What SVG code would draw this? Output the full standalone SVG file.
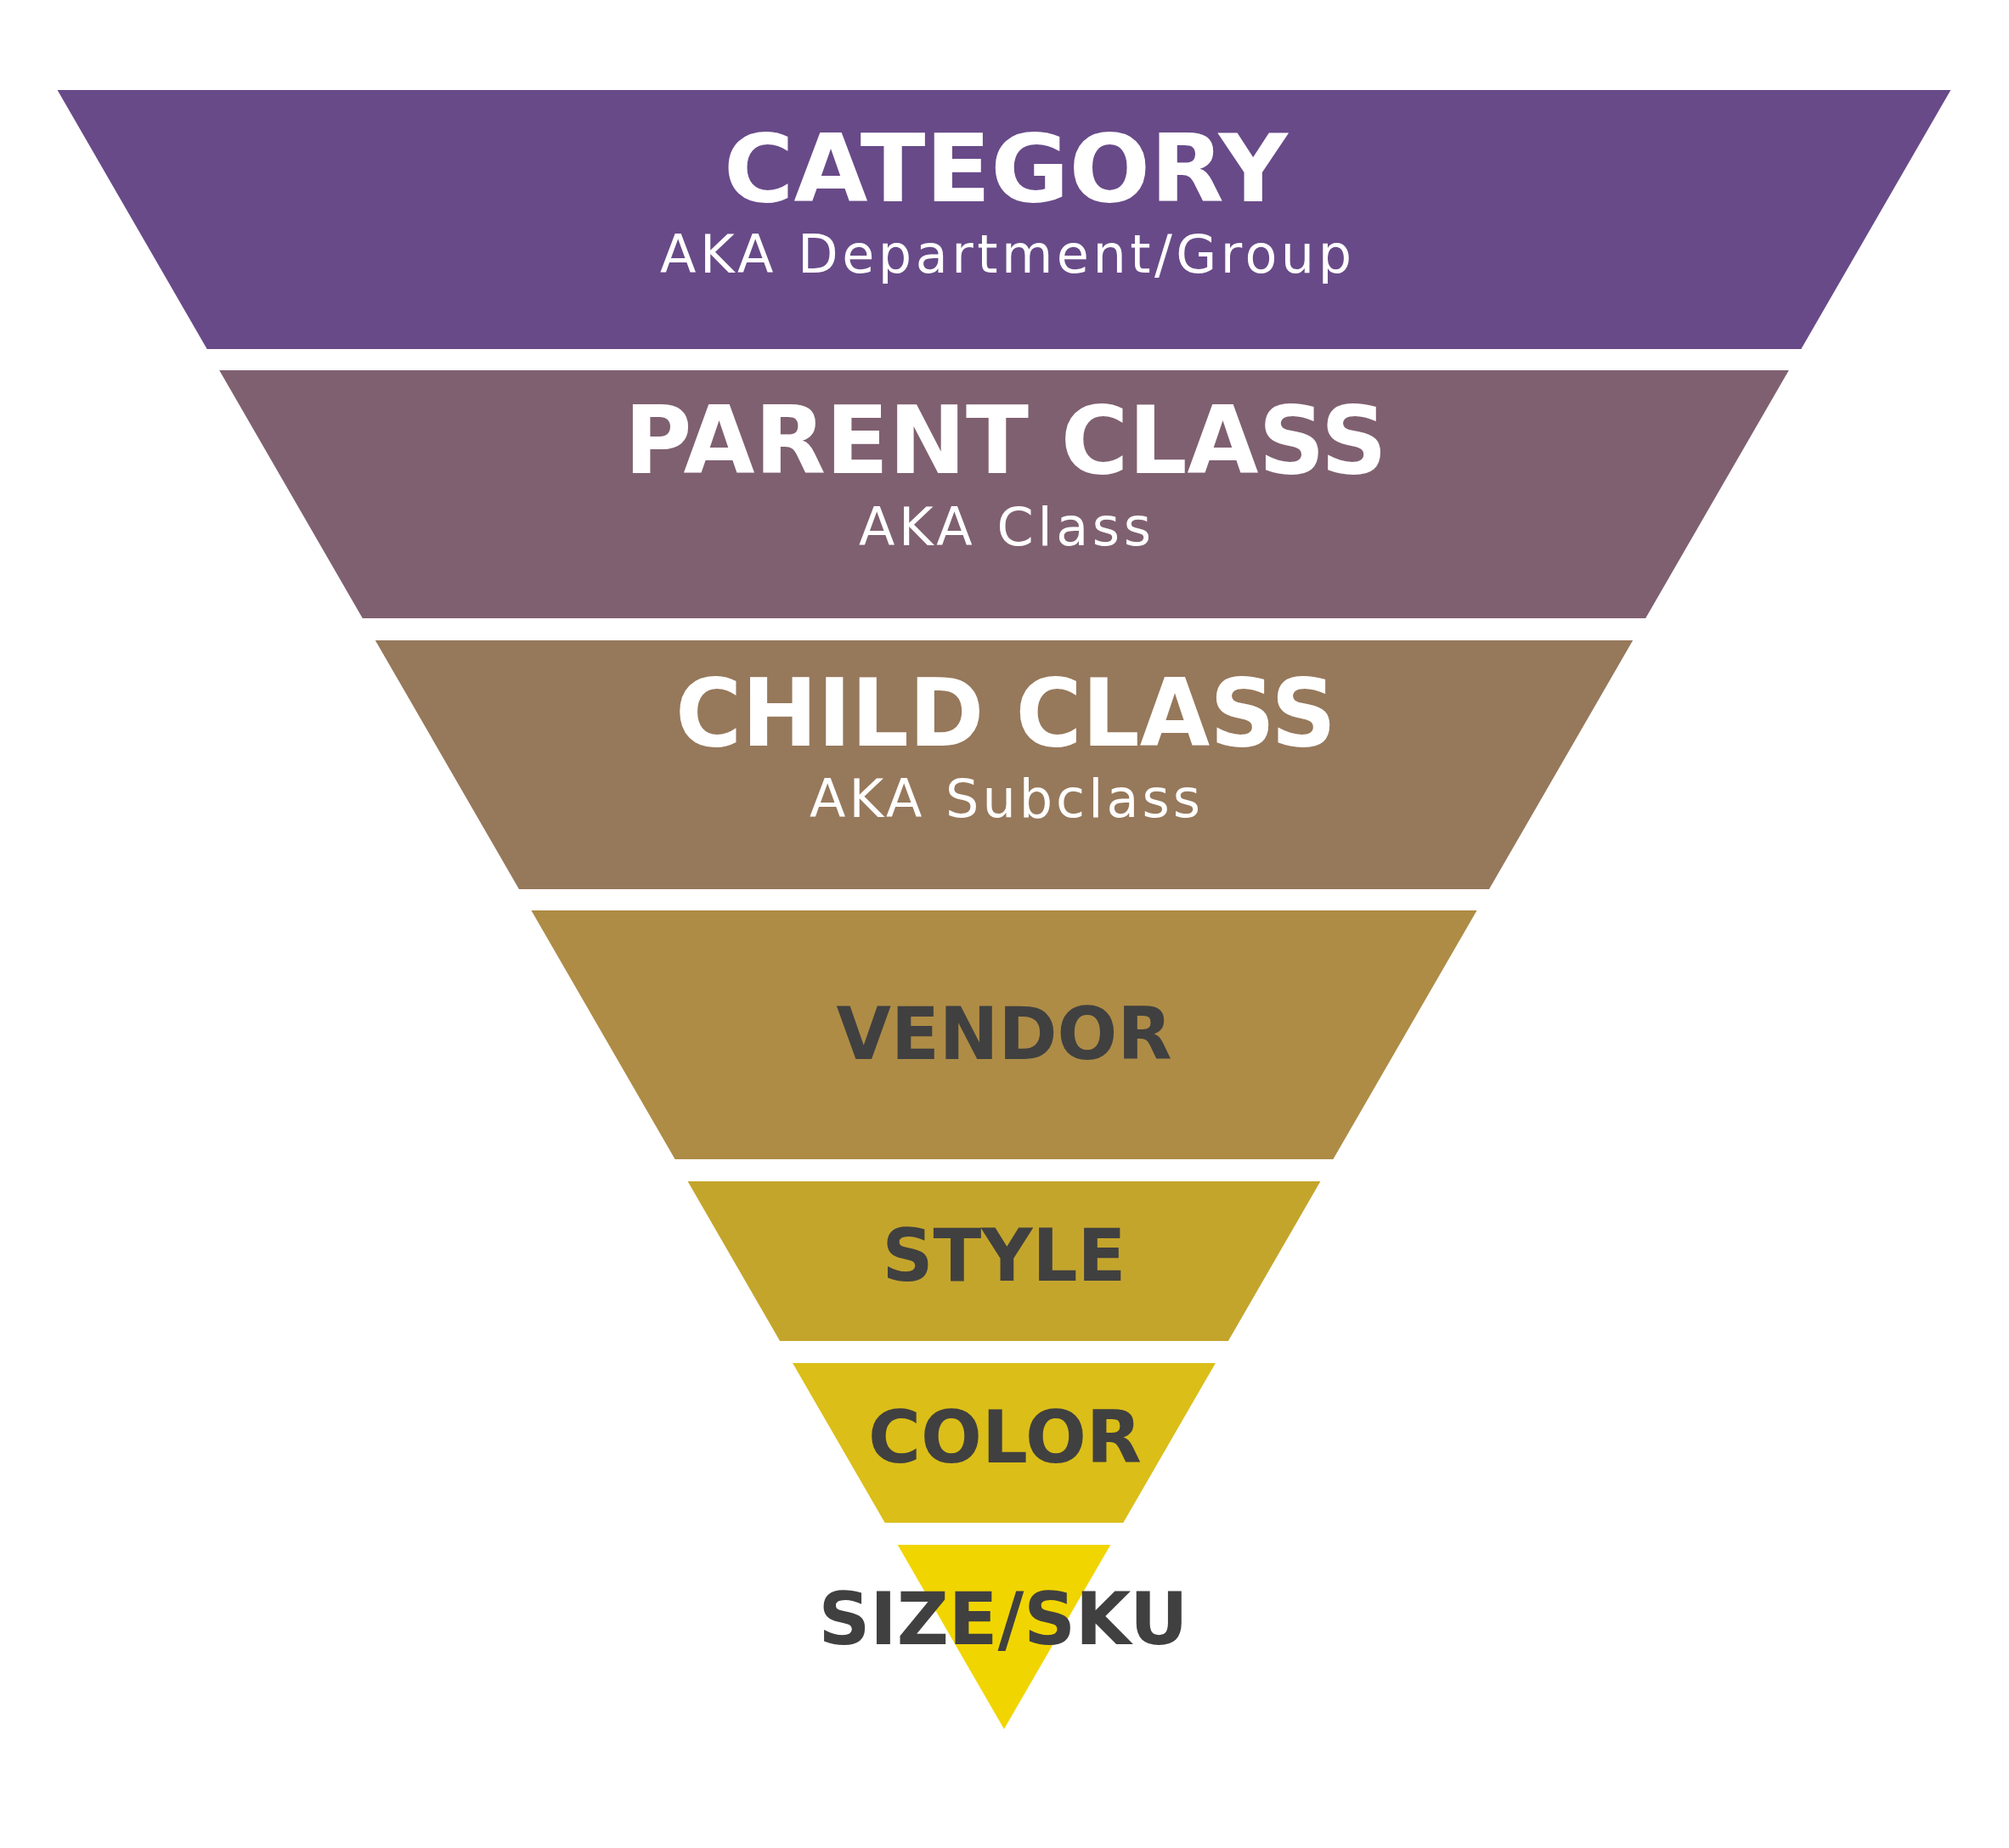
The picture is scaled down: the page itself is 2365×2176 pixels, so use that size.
<svg xmlns="http://www.w3.org/2000/svg" width="2365" height="2176" viewBox="0 0 2365 2176">
<style>
.title{font-family:"DejaVu Sans","Liberation Sans",sans-serif;font-weight:bold;font-size:110px;fill:#ffffff;text-anchor:middle}
.sub{font-family:"DejaVu Sans","Liberation Sans",sans-serif;font-size:62px;fill:#ffffff;text-anchor:middle}
.dark{font-family:"DejaVu Sans","Liberation Sans",sans-serif;font-weight:bold;font-size:85px;fill:#404040;text-anchor:middle}
</style>
<rect width="2365" height="2176" fill="#ffffff"/>
<g id="category">
<polygon points="67.6,106 2296.4,106 2120.3,411 243.7,411" fill="#684A88"/>
<text class="title" x="1184" y="237" textLength="664" lengthAdjust="spacingAndGlyphs">CATEGORY</text>
<text class="sub" x="1184" y="321" textLength="814" lengthAdjust="spacing">AKA Department/Group</text>
</g>
<g id="parent-class">
<polygon points="258.2,436 2105.8,436 1937.2,728 426.8,728" fill="#7F6070"/>
<text class="title" x="1184" y="557" textLength="898" lengthAdjust="spacingAndGlyphs">PARENT CLASS</text>
<text class="sub" x="1183" y="642" textLength="344" lengthAdjust="spacing">AKA Class</text>
</g>
<g id="child-class">
<polygon points="441.8,754 1922.2,754 1753,1047 611,1047" fill="#96785B"/>
<text class="title" x="1184" y="878" textLength="778" lengthAdjust="spacingAndGlyphs">CHILD CLASS</text>
<text class="sub" x="1183" y="962" textLength="460" lengthAdjust="spacing">AKA Subclass</text>
</g>
<g id="vendor">
<polygon points="625.4,1072 1738.6,1072 1569.4,1365 794.6,1365" fill="#AE8C46"/>
<text class="dark" x="1182" y="1247" textLength="395" lengthAdjust="spacingAndGlyphs">VENDOR</text>
</g>
<g id="style">
<polygon points="809.6,1391 1554.4,1391 1445.9,1579 918.1,1579" fill="#C4A52C"/>
<text class="dark" x="1182" y="1508" textLength="287" lengthAdjust="spacingAndGlyphs">STYLE</text>
</g>
<g id="color">
<polygon points="933.1,1605 1430.9,1605 1322.3,1793 1041.7,1793" fill="#DBBE18"/>
<text class="dark" x="1183" y="1722" textLength="322" lengthAdjust="spacingAndGlyphs">COLOR</text>
</g>
<g id="size-sku">
<polygon points="1056.7,1819 1307.3,1819 1182,2036" fill="#F1D500"/>
<text class="dark" x="1181" y="1936" textLength="435" lengthAdjust="spacingAndGlyphs">SIZE/SKU</text>
</g>
<g id="connectors"/>
</svg>
